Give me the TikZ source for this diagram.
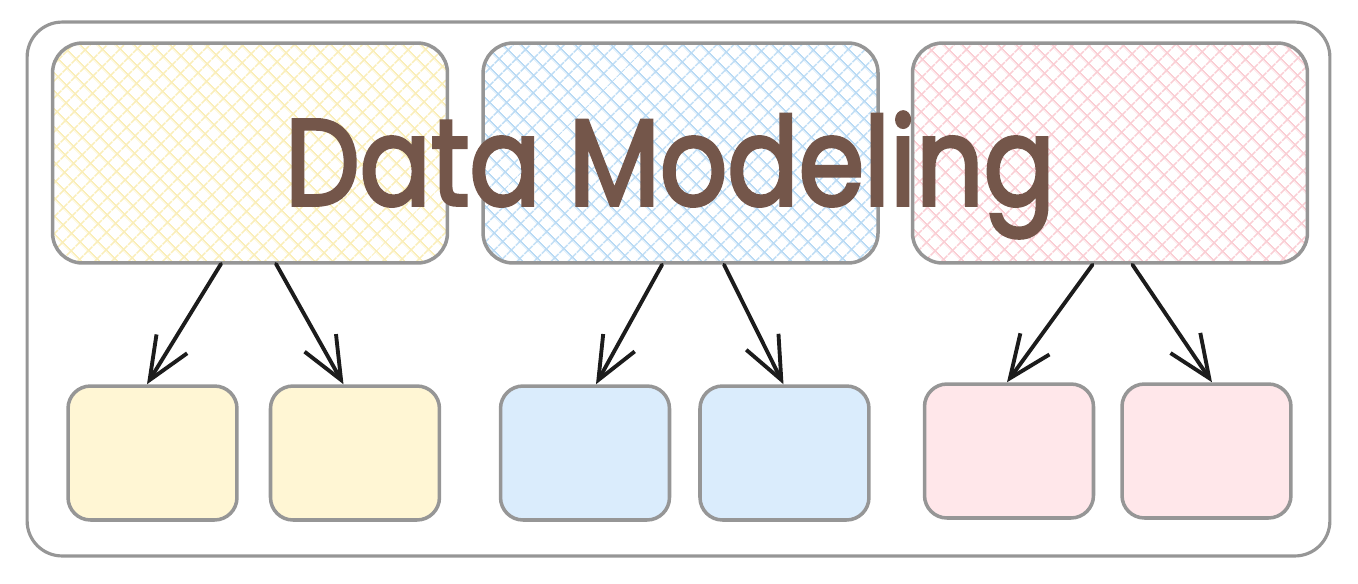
\documentclass[tikz,border=0pt]{standalone}
\usepackage{fontspec}
\setmainfont{Poppins}
\newfontface\titlefont[FakeBold=3]{Poppins}
\usepackage{xcolor}
\usepackage{tikz}
\usetikzlibrary{arrows.meta,positioning,patterns.meta}
\definecolor{frameGray}{RGB}{150,150,150}
\definecolor{hatchYellow}{RGB}{250,238,185}
\definecolor{hatchBlue}{RGB}{185,218,244}
\definecolor{hatchPink}{RGB}{250,206,212}
\definecolor{fillYellow}{RGB}{255,246,212}
\definecolor{fillBlue}{RGB}{218,236,252}
\definecolor{fillPink}{RGB}{255,231,234}
\definecolor{inkBrown}{RGB}{116,86,74}
\definecolor{inkArrow}{RGB}{28,28,28}

\begin{document}
\begin{tikzpicture}[x=0.02cm,y=-0.02cm,
  frame/.style={draw=frameGray,line width=1.8pt,rounded corners=0.7cm,
             minimum width=26.06cm,minimum height=10.68cm,inner sep=0pt},
  big/.style={draw=frameGray,line width=2pt,rounded corners=0.6cm,
             minimum width=7.9cm,minimum height=4.4cm,inner sep=0pt},
  small/.style={draw=frameGray,line width=2pt,rounded corners=0.45cm,
             minimum width=3.38cm,minimum height=2.68cm,inner sep=0pt},
  hatch/.style={pattern={Hatch[angle=45,distance=0.26cm,line width=1pt]},pattern color=#1},
  arr/.style={-{Straight Barb[length=8.5mm,width=7.2mm,line width=2.2pt]},
             draw=inkArrow,line width=2.2pt,line cap=round}]
  \useasboundingbox (0,0) rectangle (1358,583);
  \node[frame] (fr) at (678.5,289) {};
  % top row
  \node[big,hatch=hatchYellow] (ya) at (250,153) {};
  \node[big,hatch=hatchBlue,right=0.66cm of ya] (ba) {};
  \node[big,hatch=hatchPink,right=0.62cm of ba] (pa) {};
  % bottom row
  \node[small,fill=fillYellow] (y1) at (152.5,453) {};
  \node[small,fill=fillYellow,right=0.6cm of y1] (y2) {};
  \node[small,fill=fillBlue] (b1) at (585,453) {};
  \node[small,fill=fillBlue,right=0.54cm of b1] (b2) {};
  \node[small,fill=fillPink] (p1) at (1009,451) {};
  \node[small,fill=fillPink,right=0.5cm of p1] (p2) {};
  \draw[arr] ([xshift=-0.58cm]ya.south) -- ([xshift=-0.11cm]y1.north);
  \draw[arr] ([xshift=0.52cm]ya.south) -- ([xshift=-0.23cm]y2.north);
  \draw[arr] ([xshift=-0.37cm]ba.south) -- ([xshift=0.22cm]b1.north);
  \draw[arr] ([xshift=0.87cm]ba.south) -- ([xshift=-0.02cm]b2.north);
  \draw[arr] ([xshift=-0.35cm]pa.south) -- ([xshift=-0.04cm]p1.north);
  \draw[arr] ([xshift=0.45cm]pa.south) -- ([xshift=0.11cm]p2.north);
  \node[anchor=base,text=inkBrown,inner sep=0pt] (title) at (670,205)
    {\resizebox{15.4cm}{1.86cm}{\titlefont Data Modeling}};
\end{tikzpicture}
\end{document}
